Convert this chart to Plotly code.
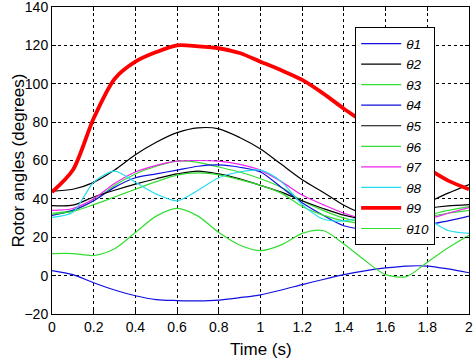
import plotly.graph_objects as go

time = [round(0.1 * i, 1) for i in range(21)]

theta1 = [2.6, 0.5, -3.7, -7.5, -10.5, -12.5, -13, -13.2, -12.8, -11.5, -10, -7.5, -4.7, -2, 0.5, 2.5, 4, 5, 5, 3.5, 1.5]
theta2 = [44, 45, 48.6, 55, 63, 69.5, 74.5, 77, 76.5, 72, 66, 58, 50, 43.5, 36.7, 32, 30, 33, 38, 43, 47.5]
theta3 = [32.5, 34, 39, 47, 53, 57, 59.7, 59, 56.6, 54, 50.5, 46, 39, 34, 30, 28, 28.5, 30, 31.5, 34, 36]
theta4 = [31.4, 34, 39, 46, 51, 53, 55, 57, 57.7, 56.5, 54, 46, 38, 31.5, 26, 24, 23.5, 24.5, 26.5, 28.5, 31]
theta5 = [36.5, 36.7, 41, 44.5, 47.7, 50.5, 53, 54.5, 53, 50.5, 47, 43.5, 39, 35, 31.5, 29.5, 30.5, 33, 35, 36.3, 37]
theta6 = [32, 33.5, 37, 41, 45, 49, 52.4, 53.5, 52.5, 50, 47, 43, 36, 31.5, 28.5, 27, 27, 28, 30.5, 32.5, 34]
theta7 = [34, 35, 40, 48, 54, 57.5, 59.7, 60, 59.7, 58, 55, 49, 42, 37, 32.5, 29.5, 28, 28, 29.5, 32.5, 35.5]
theta8 = [30.4, 33, 48.7, 54.5, 48.7, 42.5, 39, 44.5, 51, 54, 55, 49, 37, 29.5, 28.5, 31, 33, 32.5, 29.5, 23.5, 22]
theta9 = [43.5, 55, 82, 102.5, 111.5, 116.5, 120, 119.5, 118.5, 116, 111.5, 107, 102, 95, 87, 79.5, 71.5, 63.5, 56, 49.5, 45]
theta10 = [11.5, 11.5, 10.5, 14, 22.5, 31, 35, 31, 22.5, 16, 13, 16, 22, 23.5, 16.5, 8, 0.5, -0.5, 7, 14.5, 21]

names = ["θ1", "θ2", "θ3", "θ4", "θ5", "θ6", "θ7", "θ8", "θ9", "θ10"]
series = [theta1, theta2, theta3, theta4, theta5, theta6, theta7, theta8, theta9, theta10]
colors = ["#1010e0", "#000000", "#33dd33", "#1010e0", "#000000", "#33dd33",
          "#ee22ee", "#22ddee", "#ff0000", "#33dd33"]
widths = [1.2, 1.2, 1.2, 1.2, 1.2, 1.2, 1.2, 1.2, 3.8, 1.2]

fig = go.Figure()
for n, s, c, w in zip(names, series, colors, widths):
    fig.add_trace(go.Scatter(x=time, y=s, mode="lines", name="<i>" + n + "</i>",
                             line=dict(color=c, width=w, shape="spline", smoothing=0.8)))

axis_common = dict(
    showline=True, linecolor="black", linewidth=1, mirror="ticks",
    ticks="inside", ticklen=4, tickcolor="black",
    showgrid=True, gridcolor="black", gridwidth=1, griddash="3px,3px",
    zeroline=False, tickfont=dict(size=14, color="black"),
    automargin=False, ticklabeloverflow="allow",
)

fig.update_layout(
    width=474, height=360,
    margin=dict(l=52, r=5, t=7, b=46),
    paper_bgcolor="white", plot_bgcolor="white",
    font=dict(family="Liberation Sans, Arial, sans-serif", color="black"),
    xaxis=dict(range=[0, 2], dtick=0.2, tick0=0, **axis_common),
    yaxis=dict(range=[-20, 140], dtick=20, tick0=-20, **axis_common),
    legend=dict(x=0.727, y=0.934, xanchor="left", yanchor="top",
                bgcolor="white", bordercolor="black", borderwidth=1,
                font=dict(size=13.5, color="black"), tracegroupgap=0,
                itemwidth=40),
    showlegend=True,
    annotations=[
        dict(text="Time (s)", xref="paper", yref="paper", x=0.5, y=0,
             yshift=-35, xanchor="center", yanchor="middle", showarrow=False,
             font=dict(size=17, color="black")),
        dict(text="Rotor angles (degrees)", xref="paper", yref="paper", x=0, y=0.5,
             xshift=-34, xanchor="center", yanchor="middle", showarrow=False,
             textangle=-90, font=dict(size=17, color="black")),
    ],
)

fig.write_html("out.html", config={"displayModeBar": False},
               post_script="document.body.style.margin='0';")
